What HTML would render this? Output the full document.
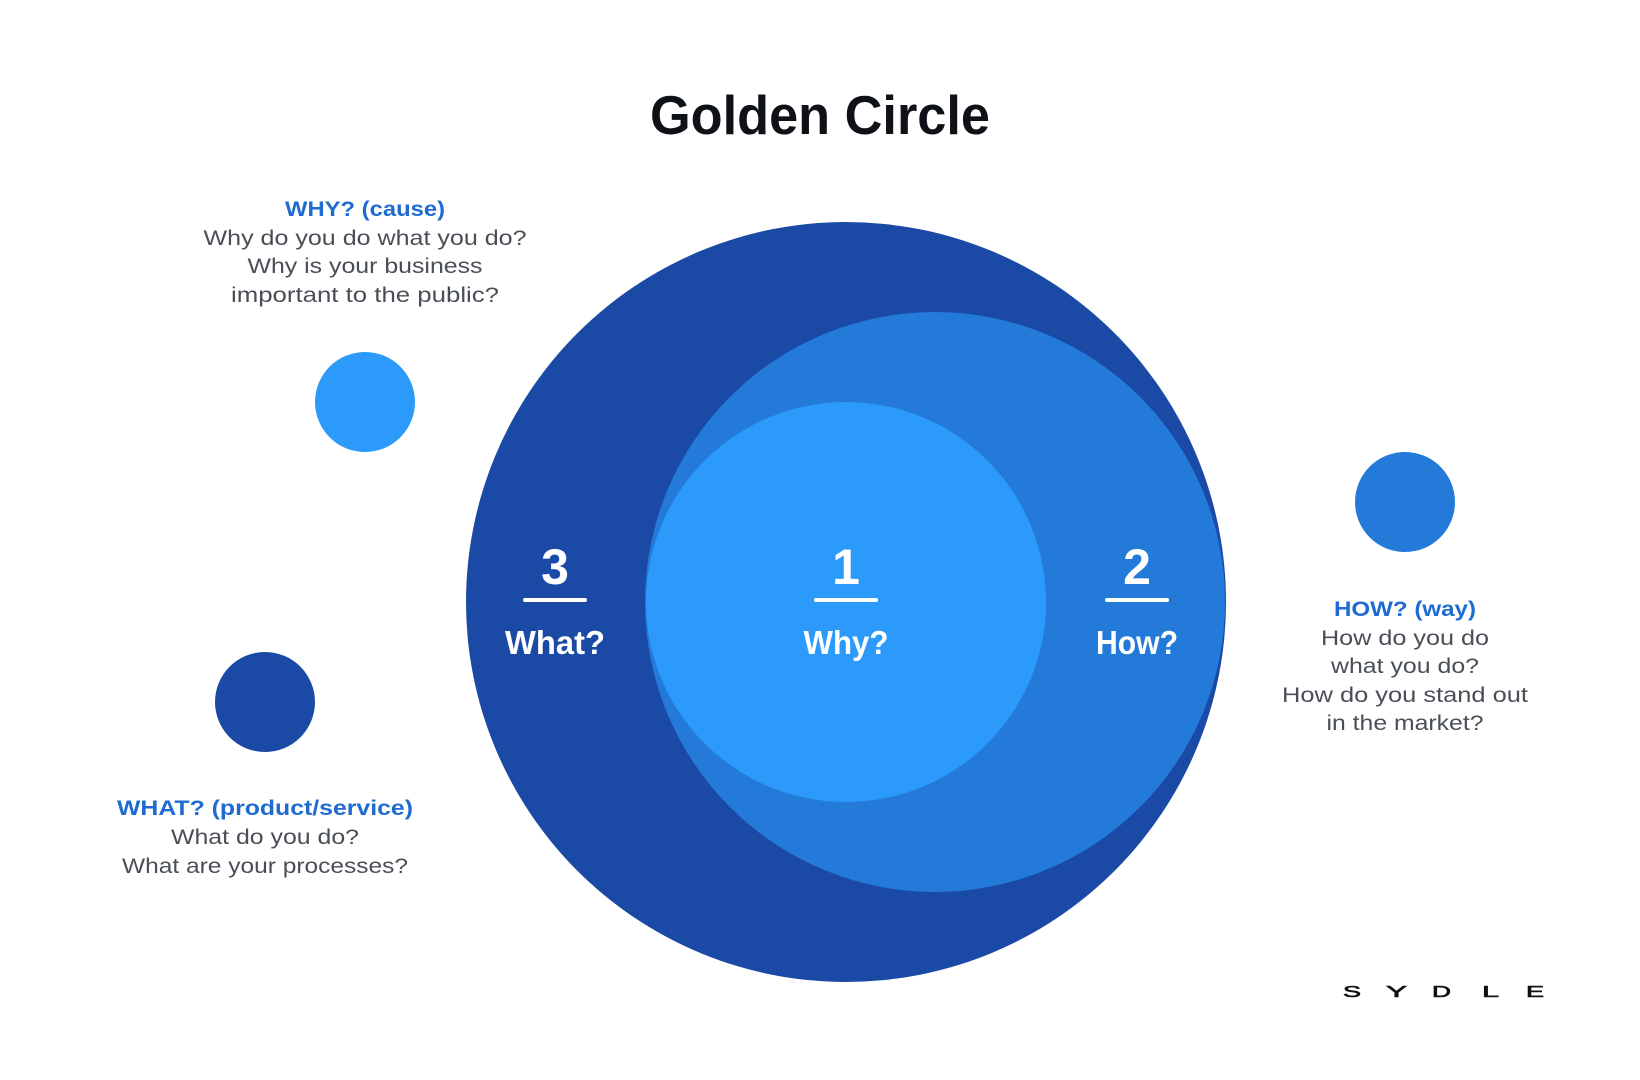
<!DOCTYPE html>
<html>
<head>
<meta charset="utf-8">
<style>
  html, body { margin: 0; padding: 0; background: #ffffff; }
  body { width: 1640px; height: 1080px; overflow: hidden; }
  svg { display: block; }
  text { font-family: "Liberation Sans", "DejaVu Sans", sans-serif; }
</style>
</head>
<body>
<svg width="1640" height="1080" viewBox="0 0 1640 1080" xmlns="http://www.w3.org/2000/svg">
  <rect x="0" y="0" width="1640" height="1080" fill="#ffffff"/>

  <!-- Title -->
  <text x="820" y="134" text-anchor="middle" font-size="55" font-weight="bold" fill="#0e1116" textLength="340" lengthAdjust="spacingAndGlyphs">Golden Circle</text>

  <!-- Main circles -->
  <circle cx="846" cy="602" r="380" fill="#1b4aa6"/>
  <circle cx="935" cy="602" r="290" fill="#237ad9"/>
  <circle cx="846" cy="602" r="200" fill="#2b9afa"/>

  <!-- Labels in circles -->
  <g fill="#ffffff" font-weight="bold">
    <text x="555" y="584" text-anchor="middle" font-size="50">3</text>
    <rect x="523" y="598" width="64" height="4" rx="2"/>
    <text x="555" y="654" text-anchor="middle" font-size="33" textLength="100" lengthAdjust="spacingAndGlyphs">What?</text>

    <text x="846" y="584" text-anchor="middle" font-size="50">1</text>
    <rect x="814" y="598" width="64" height="4" rx="2"/>
    <text x="846" y="654" text-anchor="middle" font-size="33" textLength="85" lengthAdjust="spacingAndGlyphs">Why?</text>

    <text x="1137" y="584" text-anchor="middle" font-size="50">2</text>
    <rect x="1105" y="598" width="64" height="4" rx="2"/>
    <text x="1137" y="654" text-anchor="middle" font-size="33" textLength="82" lengthAdjust="spacingAndGlyphs">How?</text>
  </g>

  <!-- Small circles -->
  <circle cx="365" cy="402" r="50" fill="#2b9afa"/>
  <circle cx="1405" cy="502" r="50" fill="#237ad9"/>
  <circle cx="265" cy="702" r="50" fill="#1b4aa6"/>

  <!-- WHY block -->
  <text x="365" y="216" text-anchor="middle" font-size="21" font-weight="bold" fill="#1f6bd1" textLength="160" lengthAdjust="spacingAndGlyphs">WHY? (cause)</text>
  <g fill="#4a4f57" font-size="21" text-anchor="middle">
    <text x="365" y="245" textLength="323" lengthAdjust="spacingAndGlyphs">Why do you do what you do?</text>
    <text x="365" y="273" textLength="235" lengthAdjust="spacingAndGlyphs">Why is your business</text>
    <text x="365" y="302" textLength="268" lengthAdjust="spacingAndGlyphs">important to the public?</text>
  </g>

  <!-- HOW block -->
  <text x="1405" y="616" text-anchor="middle" font-size="21" font-weight="bold" fill="#1f6bd1" textLength="142" lengthAdjust="spacingAndGlyphs">HOW? (way)</text>
  <g fill="#4a4f57" font-size="21" text-anchor="middle">
    <text x="1405" y="645" textLength="168" lengthAdjust="spacingAndGlyphs">How do you do</text>
    <text x="1405" y="673" textLength="148" lengthAdjust="spacingAndGlyphs">what you do?</text>
    <text x="1405" y="702" textLength="246" lengthAdjust="spacingAndGlyphs">How do you stand out</text>
    <text x="1405" y="730" textLength="157" lengthAdjust="spacingAndGlyphs">in the market?</text>
  </g>

  <!-- WHAT block -->
  <text x="265" y="815" text-anchor="middle" font-size="21" font-weight="bold" fill="#1f6bd1" textLength="296" lengthAdjust="spacingAndGlyphs">WHAT? (product/service)</text>
  <g fill="#4a4f57" font-size="21" text-anchor="middle">
    <text x="265" y="844" textLength="188" lengthAdjust="spacingAndGlyphs">What do you do?</text>
    <text x="265" y="873" textLength="286" lengthAdjust="spacingAndGlyphs">What are your processes?</text>
  </g>

  <!-- SYDLE logo -->
  <g fill="#111111" stroke="#111111" stroke-width="0.6" font-size="15.5">
    <text x="1343" y="997" textLength="18" lengthAdjust="spacingAndGlyphs">S</text>
    <text x="1386" y="997" textLength="21" lengthAdjust="spacingAndGlyphs">Y</text>
    <text x="1432" y="997" textLength="19" lengthAdjust="spacingAndGlyphs">D</text>
    <text x="1482" y="997" textLength="17" lengthAdjust="spacingAndGlyphs">L</text>
    <text x="1526" y="997" textLength="18" lengthAdjust="spacingAndGlyphs">E</text>
  </g>
</svg>
</body>
</html>
